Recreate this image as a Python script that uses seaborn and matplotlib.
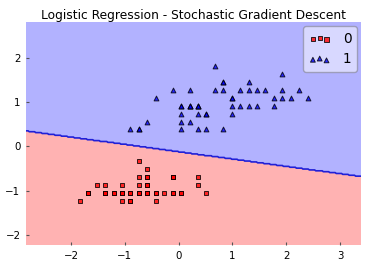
import numpy as np
import pandas as pd
import matplotlib
matplotlib.use("Agg")
import matplotlib.pyplot as plt
import seaborn as sns

# ---- data (standardized sepal length, petal width) ----
x_class0 = [-0.581, -0.894, -1.208, -1.364, -0.738, -0.111, -1.364, -0.738, -1.677, -0.894,
            -0.111, -1.051, -1.051, -1.834, 0.515, 0.359, -0.111, -0.581, 0.359, -0.581,
            -0.111, -0.581, -1.364, -0.581, -1.051, -0.738, -0.738, -0.424, -0.424, -1.208,
            -1.051, -0.111, -0.424, 0.045, -0.894, -0.738, 0.045, -0.894, -1.677, -0.581,
            -0.738, -1.521, -1.677, -0.738, -0.581, -1.051, -0.581, -1.364, -0.268, -0.738]
y_class0 = [-1.042, -1.042, -1.042, -1.042, -1.042, -0.686, -0.864, -1.042, -1.042, -1.220,
            -1.042, -1.042, -1.220, -1.220, -1.042, -0.686, -0.686, -0.864, -0.864, -0.864,
            -1.042, -0.686, -1.042, -0.508, -1.042, -1.042, -0.686, -1.042, -1.042, -1.042,
            -1.042, -0.686, -1.220, -1.042, -1.042, -1.042, -1.042, -1.220, -1.042, -1.042,
            -0.864, -0.864, -1.042, -0.331, -0.686, -0.864, -1.042, -1.042, -1.042, -1.042]
x_class1 = [2.395, 1.455, 2.238, 0.045, 1.612, 0.359, 1.298, -0.894, 1.768, -0.424,
            -0.738, 0.672, 0.829, 0.985, 0.202, 1.925, 0.202, 0.515, 1.142, 0.202,
            0.672, 0.985, 1.298, 0.985, 1.455, 1.768, 2.081, 1.925, 0.829, 0.359,
            0.045, 0.045, 0.515, 0.829, -0.111, 0.829, 1.925, 1.298, 0.202, 0.045,
            0.045, 0.985, 0.515, -0.738, 0.202, 0.359, 0.359, 1.142, -0.581, 0.359]
y_class1 = [1.092, 1.270, 1.270, 0.914, 1.270, 0.914, 1.448, 0.381, 0.914, 1.092,
            0.381, 1.270, 0.381, 1.092, 0.914, 1.092, 1.270, 0.381, 1.270, 0.558,
            1.803, 0.914, 1.270, 0.736, 0.914, 1.092, 1.092, 1.625, 1.270, 0.381,
            0.558, 0.381, 0.736, 1.448, 1.270, 1.448, 1.270, 0.914, 0.914, 0.914,
            0.736, 1.092, 0.736, 0.381, 0.914, 0.736, 0.914, 0.914, 0.558, 0.914]
class_labels = ["0", "1"]
# fitted weights: bias, w_x, w_y
weights = [0.12, 0.165, 1.0]

df = pd.DataFrame({
    "x": x_class0 + x_class1,
    "y": y_class0 + y_class1,
    "label": ["0"] * len(x_class0) + ["1"] * len(x_class1),
})

W, H, DPI = 367, 266, 100
fig = plt.figure(figsize=(W / DPI, H / DPI), dpi=DPI)
ax = fig.add_axes([26 / W, 1 - 245 / H, (361 - 26) / W, (245 - 22) / H])

# decision regions
res = 0.02
x_min, x_max = df["x"].min() - 1, df["x"].max() + 1
y_min, y_max = df["y"].min() - 1, df["y"].max() + 1
xx, yy = np.meshgrid(np.arange(x_min, x_max, res), np.arange(y_min, y_max, res))
Z = ((weights[0] + weights[1] * xx + weights[2] * yy) > 0).astype(int)
ax.contourf(xx, yy, Z, levels=[-0.5, 0.5, 1.5], colors=["red", "blue"], alpha=0.3, antialiased=True)
ax.contour(xx, yy, Z, levels=[0.5], colors=["#2020d8"], linewidths=1.2)
ax.set_xlim(xx.min(), xx.max())
ax.set_ylim(yy.min(), yy.max())

handles = []
sns.scatterplot(data=df[df["label"] == "0"], x="x", y="y", marker="s", color="red",
                edgecolor="black", linewidth=0.7, s=10, alpha=0.8, ax=ax, legend=False)
handles.append(ax.collections[-1])
sns.scatterplot(data=df[df["label"] == "1"], x="x", y="y", marker="^", color="blue",
                edgecolor="black", linewidth=0.7, s=12, alpha=0.8, ax=ax, legend=False)
handles.append(ax.collections[-1])

ax.set_xlabel("")
ax.set_ylabel("")
ax.set_title("Logistic Regression - Stochastic Gradient Descent", fontsize=8.8, pad=2)
for sp in ax.spines.values():
    sp.set_visible(False)
ax.set_xticks([-2, -1, 0, 1, 2, 3])
ax.set_yticks([-2, -1, 0, 1, 2])
ax.tick_params(direction="in", length=2.5, width=0.8, color="#555555", labelsize=7.4, pad=4)

leg = ax.legend(handles, class_labels, loc="upper right", scatterpoints=3,
                scatteryoffsets=[0.375, 0.5, 0.3125], fontsize=9.8, fancybox=True,
                framealpha=0.5, edgecolor="#777777", borderaxespad=0.3, handletextpad=0.9,
                borderpad=0.4, labelspacing=0.5, handlelength=1.6)

fig.savefig("out.png", dpi=DPI)
